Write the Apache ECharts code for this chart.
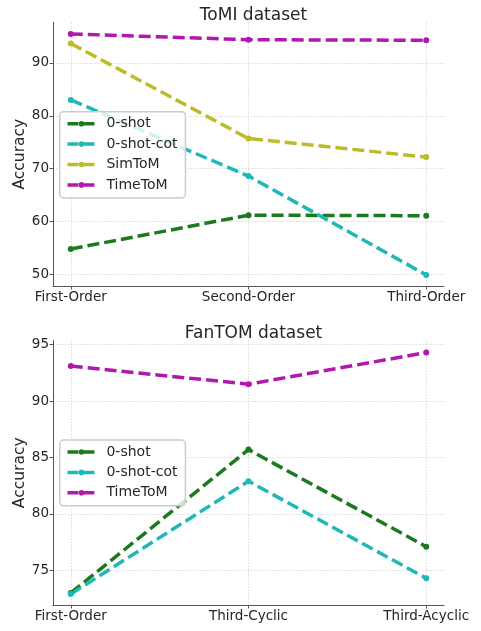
<!DOCTYPE html>
<html><head><meta charset="utf-8">
<script src="https://cdn.jsdelivr.net/npm/echarts@6/dist/echarts.min.js"></script>
<style>html,body{margin:0;padding:0;background:#fff}#c{width:481px;height:631px}</style>
</head><body><div id="c"></div>
<script>
const tomiCats = ['First-Order', 'Second-Order', 'Third-Order'];
const tomiZeroShot = [54.8, 61.2, 61.1];
const tomiZeroShotCot = [83.0, 68.6, 49.9];
const tomiSimToM = [93.7, 75.7, 72.2];
const tomiTimeToM = [95.5, 94.4, 94.3];
const tomiTicks = [50, 60, 70, 80, 90];

const fanCats = ['First-Order', 'Third-Cyclic', 'Third-Acyclic'];
const fanZeroShot = [73.0, 85.7, 77.1];
const fanZeroShotCot = [72.9, 82.9, 74.3];
const fanTimeToM = [93.1, 91.5, 94.3];
const fanTicks = [75, 80, 85, 90, 95];

const FONT = 'DejaVu Sans';
const TXT = '#262626';
const COL = {'0-shot': '#1c7a1c', '0-shot-cot': '#1fb8b8', 'SimToM': '#bcbc2a', 'TimeToM': '#b018b0'};

function pts(vals) { return vals.map((v, i) => [i, v]); }
function mkSeries(name, vals, idx) {
  return {
    type: 'line', name: name, xAxisIndex: idx, yAxisIndex: idx,
    data: pts(vals), symbol: 'circle', symbolSize: 6,
    lineStyle: {color: COL[name], width: 3.5, type: [12, 5]},
    itemStyle: {color: COL[name]},
    emphasis: {disabled: true}, animation: false
  };
}
function xAx(idx, cats) {
  return {
    type: 'value', gridIndex: idx, min: -0.1, max: 2.1,
    axisLine: {show: true, onZero: false, lineStyle: {color: '#555', width: 1}},
    axisTick: {show: true, inside: false, length: 3.5, lineStyle: {color: '#555'}, customValues: [0, 1, 2]},
    axisLabel: {customValues: [0, 1, 2], formatter: v => cats[Math.round(v)], color: TXT, fontFamily: FONT, fontSize: 13.5, margin: 4},
    splitLine: {show: true, lineStyle: {color: '#d2d2d2', width: 0.8, type: [1.5, 1.5]}}
  };
}
function yAx(idx, mn, mx, ticks) {
  return {
    type: 'value', gridIndex: idx, min: mn, max: mx,
    name: 'Accuracy', nameLocation: 'middle', nameGap: 25, nameMoveOverlap: false,
    nameTextStyle: {color: TXT, fontFamily: FONT, fontSize: 15.5},
    axisLine: {show: true, onZero: false, lineStyle: {color: '#555', width: 1}},
    axisTick: {show: true, inside: false, length: 3.5, lineStyle: {color: '#555'}, customValues: ticks},
    axisLabel: {customValues: ticks, color: TXT, fontFamily: FONT, fontSize: 13.5, margin: 4},
    splitLine: {show: true, lineStyle: {color: '#d2d2d2', width: 0.8, type: [1.5, 1.5]}}
  };
}
function legend(top, names) {
  return {
    orient: 'vertical', left: 59.7, top: top, data: names,
    backgroundColor: 'rgba(255,255,255,0.8)', borderColor: '#cccccc', borderWidth: 1.5, borderRadius: 4,
    padding: [5, 8, 6, 6], itemWidth: 28, itemHeight: 7, itemGap: 6.4,
    lineStyle: {width: 3.5, type: [11, 5]},
    textStyle: {color: TXT, fontFamily: FONT, fontSize: 14, padding: [0, 0, 0, 6]},
    selectedMode: false
  };
}

const chart = echarts.init(document.getElementById('c'), null, {renderer: 'canvas'});
chart.setOption({
  backgroundColor: '#fff',
  animation: false,
  title: [
    {text: 'ToMI dataset', left: 248.5, textAlign: 'center', top: 2, textStyle: {color: TXT, fontFamily: FONT, fontSize: 17, fontWeight: 'normal'}},
    {text: 'FanTOM dataset', left: 248.5, textAlign: 'center', top: 320, textStyle: {color: TXT, fontFamily: FONT, fontSize: 17, fontWeight: 'normal'}}
  ],
  grid: [
    {left: 53, right: 37, top: 22.3, height: 263.7, outerBoundsMode: 'none', containLabel: false},
    {left: 53, right: 37, top: 340.5, height: 264.5, outerBoundsMode: 'none', containLabel: false}
  ],
  xAxis: [xAx(0, tomiCats), xAx(1, fanCats)],
  yAxis: [yAx(0, 47.8, 97.7, tomiTicks), yAx(1, 71.93, 95.37, fanTicks)],
  legend: [
    legend(111.7, ['0-shot', '0-shot-cot', 'SimToM', 'TimeToM']),
    legend(440, [{name: '0-shot'}, {name: '0-shot-cot'}, {name: 'TimeToM'}])
  ],
  series: [
    mkSeries('0-shot', tomiZeroShot, 0),
    mkSeries('0-shot-cot', tomiZeroShotCot, 0),
    mkSeries('SimToM', tomiSimToM, 0),
    mkSeries('TimeToM', tomiTimeToM, 0),
    mkSeries('0-shot', fanZeroShot, 1),
    mkSeries('0-shot-cot', fanZeroShotCot, 1),
    mkSeries('TimeToM', fanTimeToM, 1)
  ]
});
</script></body></html>
